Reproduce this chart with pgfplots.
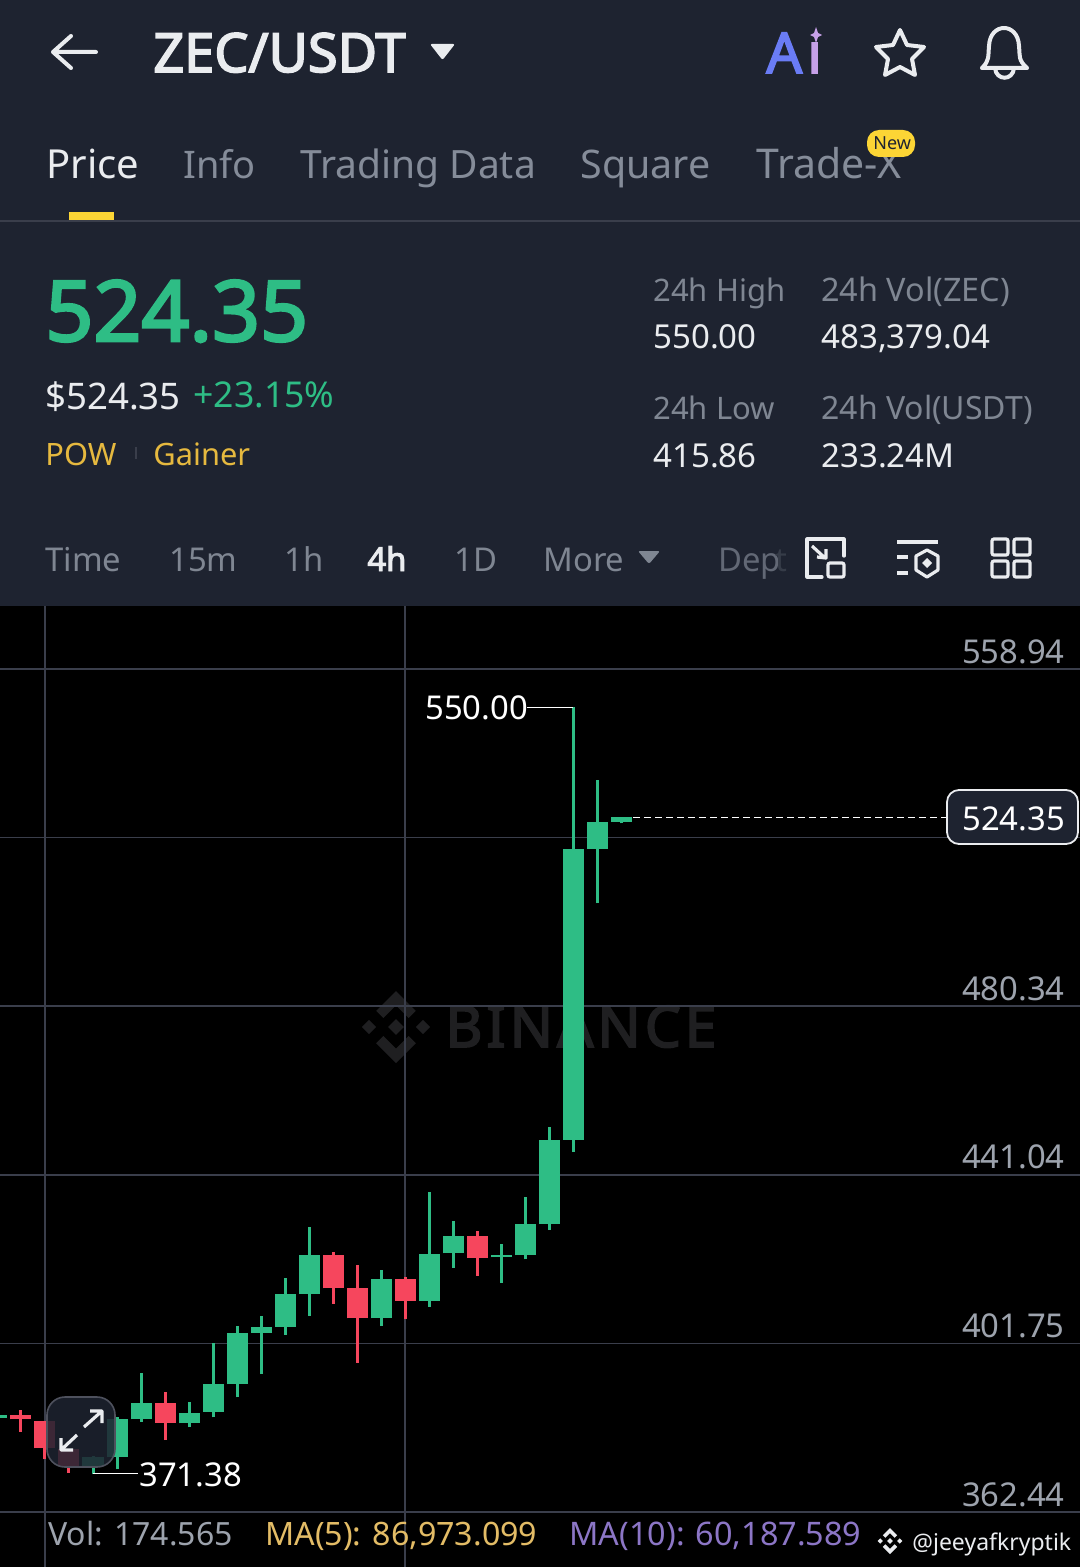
\documentclass[border=0pt]{standalone}
\usepackage{fontspec}
\setmainfont{Noto Sans}[BoldFont={Noto Sans},BoldFeatures={FakeBold=3}]
\usepackage{pgfplots}
\usepackage{pgfplotstable}
\pgfplotsset{compat=1.18}
\definecolor{panel}{HTML}{1E2330}
\definecolor{upc}{HTML}{2EBD85}
\definecolor{downc}{HTML}{F6465D}
\definecolor{tabgray}{HTML}{858C99}
\definecolor{faint}{HTML}{7F8692}
\definecolor{lightw}{HTML}{EAECEF}
\definecolor{goldc}{HTML}{E6B93F}
\definecolor{gridc}{HTML}{3A3E4B}
\definecolor{axisgray}{HTML}{9DA3AD}
\definecolor{mafive}{HTML}{E3BC66}
\definecolor{maten}{HTML}{8C76C6}
\definecolor{wmark}{HTML}{1F1F21}
\definecolor{yellowbar}{HTML}{FCD535}
\definecolor{aiblue}{HTML}{6A7CF5}
\definecolor{aipink}{HTML}{C6A0E8}
\pgfplotstableread{
i open high low close
0 384.35 385.00 384.35 385.00
4 373.15 375.49 371.38 375.18
5 375.18 384.66 372.38 384.04
6 384.04 394.91 383.42 387.77
8 383.11 388.16 382.17 385.59
9 385.75 401.75 384.50 392.27
10 392.27 405.79 389.17 404.08
11 404.24 408.12 394.60 405.48
12 405.56 416.90 403.77 413.17
13 413.33 428.94 408.12 422.42
16 407.58 418.84 405.79 416.67
18 411.62 437.02 410.30 422.57
19 422.73 430.19 419.39 426.77
21 421.80 424.83 415.89 422.34
22 422.26 435.94 421.33 429.49
23 429.56 452.17 428.16 449.14
24 449.14 550.00 446.34 516.96
25 516.96 533.04 504.30 523.20
26 523.25 524.35 522.95 524.35
}\upcandles
\pgfplotstableread{
i open high low close
1 384.97 386.21 381.16 384.04
2 383.73 383.73 374.72 377.28
3 377.05 377.05 371.61 373.15
7 387.77 390.41 379.22 383.26
14 422.42 423.12 410.92 414.57
15 414.57 420.09 397.25 407.58
17 416.75 417.21 407.35 411.62
20 426.77 427.93 417.45 421.72
}\downcandles
\newcommand{\T}[5]{\node[anchor=base west,inner sep=0pt,text=#4,font=\fontsize{#3}{#3}\selectfont] at (#1,#2) {#5};}
\newcommand{\TB}[5]{\node[anchor=base west,inner sep=0pt,text=#4,font=\fontsize{#3}{#3}\selectfont\bfseries] at (#1,#2) {#5};}
\newcommand{\binlogo}[4]{\begin{scope}[shift={(#1,#2)},x=#3pt,y=-#3pt]
\fill[#4] (0,-1)--(.55,-.45)--(.35,-.25)--(0,-.6)--(-.35,-.25)--(-.55,-.45)--cycle;
\fill[#4] (0,1)--(.55,.45)--(.35,.25)--(0,.6)--(-.35,.25)--(-.55,.45)--cycle;
\fill[#4] (-.95,0)--(-.75,-.2)--(-.55,0)--(-.75,.2)--cycle;
\fill[#4] (.95,0)--(.75,-.2)--(.55,0)--(.75,.2)--cycle;
\fill[#4] (-.22,0)--(0,-.22)--(.22,0)--(0,.22)--cycle;
\end{scope}}
\begin{document}
\begin{tikzpicture}
\useasboundingbox (0pt,0pt) rectangle (540pt,-783.5pt);
\begin{scope}[x=0.5pt,y=-0.5pt]
\fill[panel] (0,0) rectangle (1080,606);
\fill[black] (0,606) rectangle (1080,1567);
% watermark
\binlogo{396}{1027}{18}{wmark}
\node[anchor=base west,inner sep=0pt,text=wmark,font=\fontsize{28.5}{28.5}\selectfont\bfseries\addfontfeature{LetterSpace=7}] at (445,1047) {BINANCE};
\end{scope}
\begin{axis}[
  at={(0pt,-303pt)},anchor=north west,
  width=540pt,height=480.5pt,scale only axis,
  xmin=0.125,xmax=45.125,ymin=349.62,ymax=573.59,
  axis line style={draw=none},
  major tick length=0pt,
  xtick={2,17},xticklabels={},
  ytick={362.44,401.75,441.04,480.34,519.64,558.94},
  yticklabels={362.44,401.75,441.04,480.34,{},558.94},
  yticklabel pos=right,
  yticklabel style={anchor=south east,inner sep=0pt,xshift=-7.5pt,yshift=2.5pt,
    text=axisgray,font=\fontsize{16.4}{16.4}\selectfont},
  grid=major,
  major grid style={gridc,line width=0.75pt},
]
% wicks
\addplot[draw=none,mark=none,forget plot,error bars/.cd,y dir=plus,y explicit,error mark=none,
  error bar style={upc,line width=1.5pt}]
  table[x=i,y=low,y error plus expr=\thisrow{high}-\thisrow{low}] {\upcandles};
\addplot[draw=none,mark=none,forget plot,error bars/.cd,y dir=plus,y explicit,error mark=none,
  error bar style={downc,line width=1.5pt}]
  table[x=i,y=low,y error plus expr=\thisrow{high}-\thisrow{low}] {\downcandles};
% bodies
\addplot[draw=none,mark=none,forget plot,error bars/.cd,y dir=plus,y explicit,error mark=none,
  error bar style={upc,line width=10.5pt}]
  table[x=i,y=open,y error plus expr=\thisrow{close}-\thisrow{open}] {\upcandles};
\addplot[draw=none,mark=none,forget plot,error bars/.cd,y dir=plus,y explicit,error mark=none,
  error bar style={downc,line width=10.5pt}]
  table[x=i,y=close,y error plus expr=\thisrow{open}-\thisrow{close}] {\downcandles};
% leader lines
\addplot[white,line width=0.6pt,forget plot] coordinates {(22.08,550.00)(24,550.00)};
\addplot[white,line width=0.6pt,forget plot] coordinates {(4,371.38)(5.88,371.38)};
\addplot[white,line width=0.6pt,dash pattern=on 3.5pt off 2pt,forget plot] coordinates {(26.5,524.35)(39.6,524.35)};
\end{axis}
\begin{scope}[x=0.5pt,y=-0.5pt]
% chart labels
\T{425}{719}{16.4}{white}{550.00}
\T{139}{1486}{16.4}{white}{371.38}
\fill[panel,draw=lightw,line width=0.9pt,rounded corners=6pt] (947,790) rectangle (1078,844);
\T{962}{830}{16.4}{white}{524.35}
% expand button
\fill[panel,fill opacity=.86,draw=gridc!90!white,line width=.8pt,rounded corners=9pt] (47,1397) rectangle (115,1467);
\draw[lightw,line width=1.6pt,line join=round] (84,1427)--(102,1411) (90,1411)--(102,1411)--(102,1423);
\draw[lightw,line width=1.6pt,line join=round] (77,1435)--(61,1450) (61,1438)--(61,1450)--(73,1450);
% bottom strip
\T{48}{1545}{16}{axisgray}{Vol: 174.565}
\T{265}{1545}{16.1}{mafive}{MA(5): 86,973.099}
\T{569}{1545}{16.2}{maten}{MA(10): 60,187.589}
\binlogo{890}{1541}{6.5}{lightw}
\T{912}{1550}{11.5}{lightw}{@jeeyafkryptik}
% header
\draw[lightw,line width=2pt,line join=round,line cap=round] (53,52)--(96,52) (71,36)--(53,52)--(71,68);
\TB{153}{72}{27}{lightw}{ZEC/USDT}
\fill[lightw,rounded corners=1pt] (430,44)--(455,44)--(442.5,60)--cycle;
\TB{766}{73}{28}{aiblue}{A}
\TB{807}{73}{28}{aipink}{ı}
\fill[aipink] (816,27)--(818,33)--(822,35)--(818,37)--(816,43)--(814,37)--(810,35)--(814,33)--cycle;
\draw[lightw,line width=2pt,line join=round] (900,30)--(907,45)--(924,47)--(912,59)--(915,75)--(900,67)--(885,75)--(888,59)--(876,47)--(893,45)--cycle;
\draw[lightw,line width=2pt,line join=round,line cap=round] (982,68)--(1027,68) (982,68) .. controls (990,60) and (988,56) .. (989,46) .. controls (990,22) and (1018,22) .. (1019,46) .. controls (1020,56) and (1018,60) .. (1027,68);
\draw[lightw,line width=2pt] (995,68) .. controls (996,81) and (1013,81) .. (1014,68);
% tabs
\T{46}{179}{20}{lightw}{Price}
\T{183}{179}{19}{tabgray}{Info}
\T{300}{179}{19.5}{tabgray}{Trading Data}
\T{580}{179}{19.7}{tabgray}{Square}
\T{756}{179}{20.5}{tabgray}{Trade-X}
\fill[yellowbar,rounded corners=6pt] (867,130) rectangle (915,157);
\T{873}{150}{9}{panel}{New}
\fill[yellowbar] (69,212) rectangle (114,220);
\draw[gridc,line width=.8pt] (0,221)--(1080,221);
% price block
\TB{45}{341}{42}{upc}{524.35}
\T{45}{409}{18.3}{lightw}{\$524.35}
\T{193}{408}{17.8}{upc}{+23.15\%}
\T{45}{465}{15.4}{goldc}{POW}
\fill[gridc] (135,447) rectangle (137,459);
\T{153}{465}{15.4}{goldc}{Gainer}
\T{653}{302}{15.5}{faint}{24h High}
\T{653}{349}{16.5}{lightw}{550.00}
\T{821}{302}{16.2}{faint}{24h Vol(ZEC)}
\T{821}{349}{16.5}{lightw}{483,379.04}
\T{653}{419}{15.5}{faint}{24h Low}
\T{653}{467}{16.5}{lightw}{415.86}
\T{821}{419}{16}{faint}{24h Vol(USDT)}
\T{821}{467}{16.5}{lightw}{233.24M}
% timeframes
\T{45}{571}{16.4}{faint}{Time}
\T{169}{571}{16.4}{faint}{15m}
\T{284}{571}{16.4}{faint}{1h}
\TB{367}{571}{16.4}{lightw}{4h}
\T{454}{571}{16.4}{faint}{1D}
\T{543}{571}{16.4}{faint}{More}
\fill[faint,rounded corners=1pt] (638,551)--(660,551)--(649,564)--cycle;
\T{718}{571}{16.4}{faint!70!panel}{Dep}
\T{775}{571}{16.4}{faint!25!panel}{t}
% toolbar icons
\draw[lightw,line width=1.6pt,line join=round,line cap=round] (822,577)--(807,577)--(807,539)--(844,539)--(844,556);
\draw[lightw,line width=1.6pt,rounded corners=1pt] (828,563) rectangle (844,577);
\draw[lightw,line width=1.6pt,line join=round] (812,546)--(825,558) (817,557)--(826,558)--(826,549);
\draw[lightw,line width=1.6pt] (897,542)--(938,542) (897,557)--(908,557) (897,573)--(908,573);
\draw[lightw,line width=1.6pt,line join=round] (927,550)--(938,556)--(938,570)--(927,577)--(916,570)--(916,556)--cycle;
\fill[lightw] (927,558)--(932,563)--(927,568)--(922,563)--cycle;
\draw[lightw,line width=1.6pt,rounded corners=1pt] (992,539) rectangle (1008,555) (1014,539) rectangle (1030,555) (992,561) rectangle (1008,577) (1014,561) rectangle (1030,577);
\end{scope}
\end{tikzpicture}
\end{document}
